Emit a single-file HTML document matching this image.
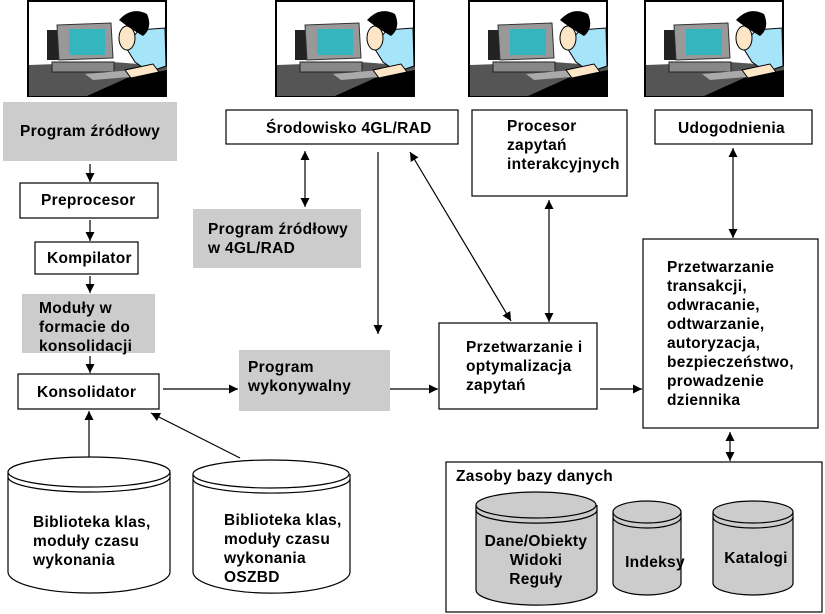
<!DOCTYPE html>
<html><head><meta charset="utf-8"><style>
html,body{margin:0;padding:0;background:#fff;}
svg{display:block;}
text{font-family:"Liberation Sans",Arial,sans-serif;font-weight:bold;font-size:15.5px;letter-spacing:0.3px;fill:#000;}
</style></head><body>
<svg width="825" height="614" viewBox="0 0 825 614" xmlns="http://www.w3.org/2000/svg">
<defs>
<marker id="ah" viewBox="0 0 10 10" refX="10" refY="5" markerWidth="9" markerHeight="9" markerUnits="userSpaceOnUse" orient="auto-start-reverse"><path d="M0,0 L10,5 L0,10 z" fill="#000"/></marker>
<g id="pic">
<rect x="1" y="1" width="138" height="95" fill="#fff" stroke="#000" stroke-width="2"/>
<polygon points="2,65 85,62 140,66 140,96 2,96" fill="#555"/>
<polygon points="60,96 100,78 140,70 140,96" fill="#000"/>
<rect x="20" y="30" width="14" height="30" fill="#222"/>
<polygon points="30,25 84,23 86,58 32,60" fill="#999" stroke="#333"/>
<rect x="42" y="29" width="36" height="26" fill="#35b5bd"/>
<rect x="25" y="62" width="62" height="10" fill="#888" stroke="#222"/>
<polygon points="58,74 105,70 115,76 66,80" fill="#aaa"/>
<polygon points="112,30 138,28 139,66 122,72 108,62 98,46" fill="#a6e4fa" stroke="#000"/>
<ellipse cx="100" cy="38" rx="8" ry="12" fill="#fde6c8" stroke="#000"/>
<path d="M92,20 Q105,6 120,14 Q126,28 116,36 Q106,30 100,26 Z" fill="#000"/>
<polygon points="98,70 126,64 132,72 104,78" fill="#fde6c8" stroke="#000"/>
</g>
</defs>

<use href="#pic" x="27" y="0"/>
<use href="#pic" x="275" y="0"/>
<use href="#pic" x="468" y="0"/>
<use href="#pic" x="644" y="0"/>

<g fill="none" stroke="#000" stroke-width="1.2">
<rect x="3" y="102" width="174" height="59" fill="#ccc" stroke="none"/>
<rect x="20" y="183" width="138" height="35" fill="#fff"/>
<rect x="35" y="242" width="103" height="32" fill="#fff"/>
<rect x="22" y="294" width="133" height="59" fill="#ccc" stroke="none"/>
<rect x="18" y="374" width="141" height="35" fill="#fff"/>
<rect x="239" y="350" width="151" height="61" fill="#ccc" stroke="none"/>
<rect x="226" y="110" width="232" height="34" fill="#fff"/>
<rect x="472" y="110" width="155" height="86" fill="#fff"/>
<rect x="193" y="209" width="168" height="59" fill="#ccc" stroke="none"/>
<rect x="439" y="323" width="158" height="86" fill="#fff"/>
<rect x="655" y="110" width="157" height="34" fill="#fff"/>
<rect x="643" y="239" width="175" height="189" fill="#fff"/>
<rect x="446" y="462" width="376" height="150" fill="#fff"/>

<line x1="90" y1="164" x2="90" y2="182" marker-end="url(#ah)"/>
<line x1="90" y1="220" x2="90" y2="241" marker-end="url(#ah)"/>
<line x1="90" y1="276" x2="90" y2="293" marker-end="url(#ah)"/>
<line x1="90" y1="356" x2="90" y2="373" marker-end="url(#ah)"/>
<line x1="163" y1="389" x2="238" y2="389" marker-end="url(#ah)"/>
<line x1="390" y1="389" x2="438" y2="389" marker-end="url(#ah)"/>
<line x1="600" y1="389" x2="642" y2="389" marker-end="url(#ah)"/>
<line x1="89" y1="457" x2="89" y2="411" marker-end="url(#ah)"/>
<line x1="240" y1="458" x2="151" y2="413" marker-end="url(#ah)"/>
<line x1="305" y1="151" x2="305" y2="207" marker-start="url(#ah)" marker-end="url(#ah)"/>
<line x1="378" y1="152" x2="378" y2="334" marker-end="url(#ah)"/>
<line x1="410" y1="152" x2="511" y2="321" marker-start="url(#ah)" marker-end="url(#ah)"/>
<line x1="549" y1="200" x2="549" y2="322" marker-start="url(#ah)" marker-end="url(#ah)"/>
<line x1="733" y1="148" x2="733" y2="238" marker-start="url(#ah)" marker-end="url(#ah)"/>
<line x1="730" y1="432" x2="730" y2="461" marker-start="url(#ah)" marker-end="url(#ah)"/>

<path d="M8,472 L8,572 A81,21 0 0 0 170,572 L170,472" fill="#fff"/>
<ellipse cx="89" cy="472" rx="81" ry="15" fill="#fff"/>
<path d="M8,477 A81,15 0 0 0 170,477"/>
<path d="M193,474 L193,572 A78,21 0 0 0 350,572 L350,474" fill="#fff"/>
<ellipse cx="271" cy="474" rx="78" ry="14" fill="#fff"/>
<path d="M193,479 A78,14 0 0 0 350,479"/>

<path d="M476,505 L476,590 A60,15 0 0 0 597,590 L597,505" fill="#ccc"/>
<ellipse cx="536" cy="505" rx="60" ry="13" fill="#ccc"/>
<path d="M476,510 A60,13 0 0 0 597,510"/>
<path d="M613,512 L613,583 A34,12 0 0 0 681,583 L681,512" fill="#ccc"/>
<ellipse cx="647" cy="512" rx="34" ry="11" fill="#ccc"/>
<path d="M613,517 A34,11 0 0 0 681,517"/>
<path d="M713,512 L713,583 A40,12 0 0 0 793,583 L793,512" fill="#ccc"/>
<ellipse cx="753" cy="512" rx="40" ry="11" fill="#ccc"/>
<path d="M713,517 A40,11 0 0 0 793,517"/>
</g>

<text x="20" y="136">Program źródłowy</text>
<text x="41" y="205">Preprocesor</text>
<text x="47" y="263">Kompilator</text>
<text x="39" y="313">Moduły w</text>
<text x="39" y="332">formacie do</text>
<text x="39" y="351">konsolidacji</text>
<text x="37" y="397">Konsolidator</text>
<text x="248" y="372">Program</text>
<text x="248" y="391">wykonywalny</text>
<text x="266" y="133">Środowisko 4GL/RAD</text>
<text x="507" y="131">Procesor</text>
<text x="507" y="150">zapytań</text>
<text x="507" y="169">interakcyjnych</text>
<text x="208" y="234">Program  źródłowy</text>
<text x="208" y="253">w 4GL/RAD</text>
<text x="466" y="352">Przetwarzanie i</text>
<text x="466" y="371">optymalizacja</text>
<text x="466" y="390">zapytań</text>
<text x="678" y="133">Udogodnienia</text>
<text x="667" y="272">Przetwarzanie</text>
<text x="667" y="291">transakcji,</text>
<text x="667" y="310">odwracanie,</text>
<text x="667" y="329">odtwarzanie,</text>
<text x="667" y="348">autoryzacja,</text>
<text x="667" y="367">bezpieczeństwo,</text>
<text x="667" y="386">prowadzenie</text>
<text x="667" y="405">dziennika</text>
<text x="456" y="481">Zasoby bazy danych</text>
<text x="33" y="527">Biblioteka klas,</text>
<text x="33" y="546">moduły czasu</text>
<text x="33" y="565">wykonania</text>
<text x="224" y="525">Biblioteka klas,</text>
<text x="224" y="544">moduły czasu</text>
<text x="224" y="563">wykonania</text>
<text x="224" y="582">OSZBD</text>
<text x="536" y="546" text-anchor="middle">Dane/Obiekty</text>
<text x="536" y="565" text-anchor="middle">Widoki</text>
<text x="536" y="584" text-anchor="middle">Reguły</text>
<text x="655" y="567" text-anchor="middle">Indeksy</text>
<text x="756" y="563" text-anchor="middle">Katalogi</text>
</svg>
</body></html>
